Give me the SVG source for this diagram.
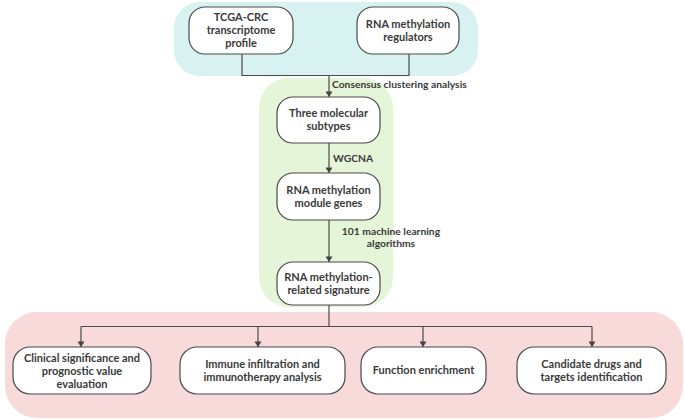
<svg xmlns="http://www.w3.org/2000/svg" width="685" height="420" viewBox="0 0 685 420">
<defs>
<marker id="arr" viewBox="0 0 8 10" refX="8" refY="5" markerWidth="6" markerHeight="7" markerUnits="userSpaceOnUse" orient="auto">
<path d="M0,0 L8,5 L0,10 z" fill="#444"/>
</marker>
<style>
.bg-cyan{fill:#d8f2f2}
.bg-green{fill:#e5f5d8}
.bg-pink{fill:#f9dada}
.box{fill:#fff;stroke:#4a4a4a;stroke-width:1.2}
.t{font-family:Lato,"Open Sans",sans-serif;font-weight:bold;font-size:11px;fill:#3a3a3a;text-anchor:middle}
.l{font-family:Lato,"Open Sans",sans-serif;font-weight:bold;font-size:10.3px;fill:#3a3a3a}
.c{fill:none;stroke:#4a4a4a;stroke-width:1.2}
</style>
</defs>
<rect class="bg-cyan" x="174" y="2" width="304" height="74" rx="26"/>
<rect class="bg-green" x="259" y="78" width="134" height="229" rx="30"/>
<rect class="bg-pink" x="5" y="312" width="678" height="106" rx="32"/>
<g id="connectors">
<path class="c" d="M242,54 V75.5 H409 V54"/>
<path class="c" d="M329,75.5 V97" marker-end="url(#arr)"/>
<path class="c" d="M329,143 V173" marker-end="url(#arr)"/>
<path class="c" d="M329,220 V262" marker-end="url(#arr)"/>
<path class="c" d="M329,305 V326.5"/>
<path class="c" d="M81,326.5 H592"/>
<path class="c" d="M81,326.5 V347" marker-end="url(#arr)"/>
<path class="c" d="M258,326.5 V347" marker-end="url(#arr)"/>
<path class="c" d="M423,326.5 V347" marker-end="url(#arr)"/>
<path class="c" d="M592,326.5 V347" marker-end="url(#arr)"/>
<text class="l" x="332" y="88">Consensus clustering analysis</text>
<text class="l" x="333" y="162">WGCNA</text>
<text class="l" x="391" y="235" text-anchor="middle">101 machine learning</text>
<text class="l" x="391" y="247" text-anchor="middle">algorithms</text>
</g>
<g id="tcga">
<rect class="box" x="189" y="7" width="104" height="47" rx="16"/>
<text class="t" x="241" y="21">TCGA-CRC</text>
<text class="t" x="241" y="34">transcriptome</text>
<text class="t" x="241" y="47">profile</text>
</g>
<g id="regulators">
<rect class="box" x="357" y="7" width="102" height="47" rx="16"/>
<text class="t" x="408" y="28">RNA methylation</text>
<text class="t" x="408" y="41">regulators</text>
</g>
<g id="subtypes">
<rect class="box" x="277" y="97" width="103" height="46" rx="16"/>
<text class="t" x="328.5" y="117">Three molecular</text>
<text class="t" x="328.5" y="130">subtypes</text>
</g>
<g id="module">
<rect class="box" x="277" y="173" width="103" height="47" rx="16"/>
<text class="t" x="328.5" y="194">RNA methylation</text>
<text class="t" x="328.5" y="207">module genes</text>
</g>
<g id="signature">
<rect class="box" x="277" y="262" width="103" height="43" rx="16"/>
<text class="t" x="328.5" y="281">RNA methylation-</text>
<text class="t" x="328.5" y="294">related signature</text>
</g>
<g id="clinical">
<rect class="box" x="13" y="347" width="138" height="47" rx="17"/>
<text class="t" x="82" y="362">Clinical significance and</text>
<text class="t" x="82" y="375">prognostic value</text>
<text class="t" x="82" y="388">evaluation</text>
</g>
<g id="immune">
<rect class="box" x="180" y="347" width="165" height="47" rx="17"/>
<text class="t" x="262.5" y="368">Immune infiltration and</text>
<text class="t" x="262.5" y="381">immunotherapy analysis</text>
</g>
<g id="function">
<rect class="box" x="361" y="347" width="125" height="47" rx="17"/>
<text class="t" x="423.5" y="374">Function enrichment</text>
</g>
<g id="drugs">
<rect class="box" x="517" y="347" width="149" height="47" rx="17"/>
<text class="t" x="591.5" y="368">Candidate drugs and</text>
<text class="t" x="591.5" y="381">targets identification</text>
</g>
</svg>
